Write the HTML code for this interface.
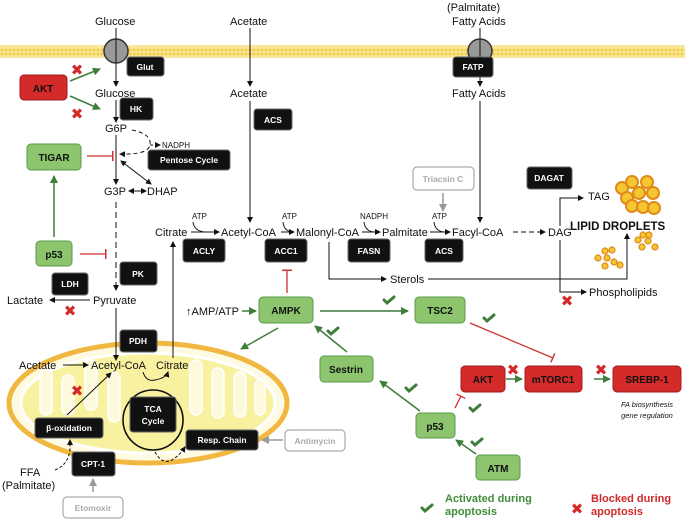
<!DOCTYPE html>
<html><head><meta charset="utf-8"><style>
body{margin:0;background:#fff}
svg{display:block;font-family:"Liberation Sans",Arial,sans-serif}
.t{font-size:11px;fill:#111}
.s{font-size:8px;fill:#111}
.bt{font-size:8.5px;font-weight:bold;fill:#fff;text-anchor:middle}
.gt{font-size:10px;font-weight:bold;fill:#111;text-anchor:middle}
.rt{font-size:10px;font-weight:bold;fill:#111;text-anchor:middle}
</style></head><body>
<svg width="685" height="520" viewBox="0 0 685 520">
<defs>
<marker id="a" markerUnits="userSpaceOnUse" markerWidth="6" markerHeight="6" refX="5" refY="3" orient="auto"><path d="M0,0L6,3L0,6z" fill="#111"/></marker>
<marker id="a2" markerUnits="userSpaceOnUse" markerWidth="6" markerHeight="6" refX="1" refY="3" orient="auto"><path d="M6,0L0,3L6,6z" fill="#111"/></marker>
<marker id="g" markerUnits="userSpaceOnUse" markerWidth="8" markerHeight="8" refX="7" refY="4" orient="auto"><path d="M0,0L8,4L0,8z" fill="#3f7d3a"/></marker>
<marker id="gr" markerUnits="userSpaceOnUse" markerWidth="8" markerHeight="8" refX="7" refY="4" orient="auto"><path d="M0,0L8,4L0,8z" fill="#999"/></marker>
<marker id="inh" markerUnits="userSpaceOnUse" markerWidth="2" markerHeight="10" refX="1" refY="5" orient="auto"><rect x="0" y="0" width="1.5" height="10" fill="#d03030"/></marker>
<pattern id="mem" width="4" height="13" patternUnits="userSpaceOnUse"><rect width="4" height="13" fill="#fbeaa0"/><circle cx="2" cy="2" r="1.6" fill="#f3cd50"/><circle cx="2" cy="11" r="1.6" fill="#f3cd50"/><rect x="1.5" y="3" width="1" height="7" fill="#f6dc80"/></pattern>
</defs>
<rect x="0" y="45" width="685" height="13" fill="url(#mem)"/>
<!-- mitochondrion -->
<ellipse cx="148" cy="403" rx="139" ry="60" fill="#fffbe2" stroke="#f0b840" stroke-width="5"/>
<ellipse cx="148" cy="403" rx="127" ry="50" fill="#f7f1a0" stroke="#fff" stroke-width="3"/>
<g fill="#fcf9dc" stroke="#fff" stroke-width="1.5">
<rect x="40" y="370" width="12" height="45" rx="6"/><rect x="62" y="375" width="12" height="40" rx="6"/>
<rect x="85" y="360" width="12" height="50" rx="6"/><rect x="108" y="372" width="12" height="50" rx="6"/>
<rect x="190" y="360" width="12" height="55" rx="6"/><rect x="212" y="368" width="12" height="50" rx="6"/>
<rect x="234" y="372" width="12" height="45" rx="6"/><rect x="255" y="380" width="10" height="35" rx="5"/>
</g>
<!-- glucose column -->
<text class="t" x="95" y="25">Glucose</text>
<line x1="116" y1="28" x2="116" y2="86" stroke="#111" marker-end="url(#a)"/>
<circle cx="116" cy="51" r="12" fill="#999" stroke="#333" stroke-width="1.5"/>
<line x1="116" y1="39" x2="116" y2="63" stroke="#111"/>
<text class="t" x="95" y="97">Glucose</text>
<line x1="116" y1="100" x2="116" y2="122" stroke="#111" marker-end="url(#a)"/>
<text class="t" x="105" y="132">G6P</text>
<line x1="116" y1="135" x2="116" y2="184" stroke="#111" marker-end="url(#a)"/>
<path d="M132,130 Q152,134 150,145 Q148,155 120,154" fill="none" stroke="#111" stroke-dasharray="4,3" marker-end="url(#a)"/>
<line x1="150" y1="145" x2="160" y2="145" stroke="#111" stroke-dasharray="3,2" marker-end="url(#a)"/>
<text class="s" x="162" y="148">NADPH</text>
<line x1="121" y1="161" x2="151" y2="184" stroke="#111" marker-end="url(#a)" marker-start="url(#a2)"/>
<text class="t" x="104" y="195">G3P</text>
<line x1="129" y1="191" x2="146" y2="191" stroke="#111" marker-end="url(#a)" marker-start="url(#a2)"/>
<text class="t" x="147" y="195">DHAP</text>
<line x1="116" y1="202" x2="116" y2="290" stroke="#111" stroke-dasharray="6,4" marker-end="url(#a)"/>
<text class="t" x="93" y="304">Pyruvate</text>
<line x1="116" y1="308" x2="116" y2="360" stroke="#111" marker-end="url(#a)"/>
<line x1="90" y1="300" x2="50" y2="300" stroke="#111" marker-end="url(#a)"/>
<text class="t" x="7" y="304">Lactate</text>
<!-- left signaling -->
<rect x="20" y="75" width="47" height="25" rx="4" fill="#d42a2a" stroke="#a01c1c"/><text class="rt" x="43" y="92">AKT</text>
<line x1="70" y1="81" x2="100" y2="69" stroke="#3f7d3a" stroke-width="1.5" marker-end="url(#g)"/>
<line x1="70" y1="96" x2="100" y2="109" stroke="#3f7d3a" stroke-width="1.5" marker-end="url(#g)"/>
<rect x="27" y="144" width="54" height="26" rx="4" fill="#8cc56e" stroke="#5a9a48"/><text class="gt" x="54" y="161">TIGAR</text>
<line x1="87" y1="156" x2="113" y2="156" stroke="#d03030" stroke-width="1.3" marker-end="url(#inh)"/>
<rect x="36" y="241" width="36" height="25" rx="4" fill="#8cc56e" stroke="#5a9a48"/><text class="gt" x="54" y="258">p53</text>
<line x1="54" y1="237" x2="54" y2="176" stroke="#3f7d3a" stroke-width="1.5" marker-end="url(#g)"/>
<line x1="80" y1="254" x2="106" y2="254" stroke="#d03030" stroke-width="1.3" marker-end="url(#inh)"/>
<!-- acetate column -->
<text class="t" x="230" y="25">Acetate</text>
<line x1="250" y1="28" x2="250" y2="86" stroke="#111" marker-end="url(#a)"/>
<text class="t" x="230" y="97">Acetate</text>
<line x1="250" y1="101" x2="250" y2="222" stroke="#111" marker-end="url(#a)"/>
<!-- fatty acids -->
<text class="t" x="447" y="11">(Palmitate)</text>
<text class="t" x="452" y="25">Fatty Acids</text>
<line x1="480" y1="28" x2="480" y2="86" stroke="#111" marker-end="url(#a)"/>
<circle cx="480" cy="51" r="12" fill="#999" stroke="#333" stroke-width="1.5"/>
<line x1="480" y1="39" x2="480" y2="63" stroke="#111"/>
<text class="t" x="452" y="97">Fatty Acids</text>
<line x1="480" y1="101" x2="480" y2="222" stroke="#111" marker-end="url(#a)"/>
<!-- main row -->
<text class="t" x="155" y="236">Citrate</text>
<text class="t" x="221" y="236">Acetyl-CoA</text>
<text class="t" x="296" y="236">Malonyl-CoA</text>
<text class="t" x="382" y="236">Palmitate</text>
<text class="t" x="452" y="236">Facyl-CoA</text>
<text class="t" x="548" y="236">DAG</text>
<text class="s" x="192" y="219">ATP</text><text class="s" x="282" y="219">ATP</text><text class="s" x="360" y="219">NADPH</text><text class="s" x="432" y="219">ATP</text>
<g stroke="#111" fill="none">
<line x1="191" y1="232" x2="219" y2="232" marker-end="url(#a)"/><path d="M193,222 Q194,231 205,232"/>
<line x1="281" y1="232" x2="294" y2="232" marker-end="url(#a)"/><path d="M283,222 Q284,231 292,232"/>
<line x1="362" y1="232" x2="380" y2="232" marker-end="url(#a)"/><path d="M364,222 Q365,231 374,232"/>
<line x1="430" y1="232" x2="450" y2="232" marker-end="url(#a)"/><path d="M434,222 Q435,231 444,232"/>
<line x1="513" y1="232" x2="545" y2="232" stroke-dasharray="5,3" marker-end="url(#a)"/>
<line x1="173" y1="358" x2="173" y2="242" marker-end="url(#a)"/>
<path d="M329,242 V279 H386" marker-end="url(#a)"/>
<path d="M428,279 H627 V234" marker-end="url(#a)"/>
<path d="M560,226 V198 H583" marker-end="url(#a)"/>
<path d="M560,240 V292 H586" marker-end="url(#a)"/>
</g>
<text class="t" x="390" y="283">Sterols</text>
<text class="t" x="588" y="200">TAG</text>
<text class="t" x="589" y="296">Phospholipids</text>
<g fill="#f6c630" stroke="#e08a1a" stroke-width="2">
<circle cx="622" cy="188" r="6"/><circle cx="632" cy="182" r="6"/><circle cx="647" cy="182" r="6"/>
<circle cx="627" cy="198" r="6"/><circle cx="639" cy="193" r="6"/><circle cx="653" cy="193" r="6"/>
<circle cx="632" cy="206" r="6"/><circle cx="643" cy="207" r="6"/><circle cx="654" cy="208" r="6"/>
</g>
<g fill="#f6c630" stroke="#e08a1a" stroke-width="1.2">
<circle cx="605" cy="251" r="3"/><circle cx="612" cy="250" r="3"/><circle cx="598" cy="258" r="3"/><circle cx="607" cy="258" r="3"/><circle cx="614" cy="262" r="3"/><circle cx="605" cy="266" r="3"/><circle cx="620" cy="265" r="3"/>
<circle cx="643" cy="235" r="3"/><circle cx="649" cy="235" r="3"/><circle cx="638" cy="240" r="3"/><circle cx="648" cy="241" r="3"/><circle cx="642" cy="247" r="3"/><circle cx="655" cy="247" r="3"/>
</g>
<text x="570" y="230" style="font-size:11.5px;font-weight:bold;fill:#111">LIPID DROPLETS</text>
<!-- mito text -->
<text class="t" x="19" y="369">Acetate</text>
<line x1="63" y1="365" x2="88" y2="365" stroke="#111" marker-end="url(#a)"/>
<text class="t" x="91" y="369">Acetyl-CoA</text>
<text class="t" x="156" y="369">Citrate</text>
<path d="M143,372 Q146,382 155,380 Q166,378 168,372" fill="none" stroke="#111" marker-end="url(#a)"/>
<circle cx="153" cy="420" r="30" fill="none" stroke="#111" stroke-width="1.6"/>
<line x1="67" y1="415" x2="111" y2="373" stroke="#111" marker-end="url(#a)"/>
<path d="M155,452 Q162,465 172,460 Q180,455 185,447" fill="none" stroke="#111" stroke-dasharray="3,2" marker-end="url(#a)"/>
<path d="M55,470 Q68,465 70,450 L70,440" fill="none" stroke="#111" stroke-dasharray="3,2" marker-end="url(#a)"/>
<text class="t" x="20" y="476">FFA</text>
<text class="t" x="2" y="489">(Palmitate)</text>
<line x1="93" y1="492" x2="93" y2="479" stroke="#999" stroke-width="1.5" marker-end="url(#gr)"/>
<line x1="283" y1="440" x2="262" y2="440" stroke="#999" stroke-width="1.5" marker-end="url(#gr)"/>
<line x1="443" y1="193" x2="443" y2="211" stroke="#999" stroke-width="1.5" marker-end="url(#gr)"/>
<!-- black boxes -->
<g fill="#111" stroke="#666" stroke-width="1">
<rect x="127" y="57" width="37" height="19" rx="3"/><rect x="120" y="98" width="33" height="22" rx="3"/>
<rect x="148" y="150" width="82" height="20" rx="3"/><rect x="254" y="109" width="38" height="21" rx="3"/>
<rect x="183" y="239" width="42" height="23" rx="3"/><rect x="265" y="239" width="42" height="23" rx="3"/>
<rect x="348" y="239" width="42" height="23" rx="3"/><rect x="425" y="239" width="38" height="23" rx="3"/>
<rect x="453" y="57" width="40" height="20" rx="3"/><rect x="527" y="167" width="45" height="22" rx="3"/>
<rect x="120" y="262" width="37" height="23" rx="3"/><rect x="52" y="273" width="36" height="22" rx="3"/>
<rect x="120" y="330" width="37" height="22" rx="3"/>
<rect x="130" y="397" width="46" height="35" rx="3"/><rect x="35" y="418" width="68" height="20" rx="3"/>
<rect x="72" y="452" width="43" height="24" rx="3"/><rect x="186" y="430" width="72" height="20" rx="3"/>
</g>
<text class="bt" x="145" y="70">Glut</text><text class="bt" x="136" y="112">HK</text>
<text class="bt" x="189" y="163">Pentose Cycle</text><text class="bt" x="273" y="123">ACS</text>
<text class="bt" x="204" y="254">ACLY</text><text class="bt" x="286" y="254">ACC1</text>
<text class="bt" x="369" y="254">FASN</text><text class="bt" x="444" y="254">ACS</text>
<text class="bt" x="473" y="70">FATP</text><text class="bt" x="549" y="181">DAGAT</text>
<text class="bt" x="138" y="277">PK</text><text class="bt" x="70" y="287">LDH</text>
<text class="bt" x="138" y="344">PDH</text>
<text class="bt" x="153" y="412">TCA</text><text class="bt" x="153" y="424">Cycle</text>
<text class="bt" x="69" y="431">β-oxidation</text><text class="bt" x="93" y="467">CPT-1</text>
<text class="bt" x="222" y="443">Resp. Chain</text>
<g fill="#fff" stroke="#aaa" stroke-width="1.2">
<rect x="413" y="167" width="61" height="23" rx="4"/><rect x="285" y="430" width="60" height="21" rx="4"/><rect x="63" y="497" width="60" height="21" rx="4"/>
</g>
<text x="443" y="182" style="font-size:8.5px;font-weight:bold;fill:#aaa;text-anchor:middle">Triacsin C</text>
<text x="315" y="444" style="font-size:8.5px;font-weight:bold;fill:#aaa;text-anchor:middle">Antimycin</text>
<text x="93" y="511" style="font-size:8.5px;font-weight:bold;fill:#aaa;text-anchor:middle">Etomoxir</text>
<!-- signaling -->
<text class="t" x="186" y="315">↑AMP/ATP</text>
<line x1="242" y1="311" x2="256" y2="311" stroke="#3f7d3a" stroke-width="1.5" marker-end="url(#g)"/>
<line x1="287" y1="293" x2="287" y2="270" stroke="#d03030" stroke-width="1.3" marker-end="url(#inh)"/>
<line x1="320" y1="311" x2="408" y2="311" stroke="#3f7d3a" stroke-width="1.5" marker-end="url(#g)"/>
<line x1="278" y1="328" x2="241" y2="349" stroke="#3f7d3a" stroke-width="1.5" marker-end="url(#g)"/>
<line x1="347" y1="352" x2="315" y2="326" stroke="#3f7d3a" stroke-width="1.5" marker-end="url(#g)"/>
<line x1="470" y1="323" x2="553" y2="358" stroke="#d03030" stroke-width="1.3" marker-end="url(#inh)"/>
<line x1="420" y1="411" x2="380" y2="381" stroke="#3f7d3a" stroke-width="1.5" marker-end="url(#g)"/>
<line x1="455" y1="408" x2="461" y2="396" stroke="#d03030" stroke-width="1.3" marker-end="url(#inh)"/>
<line x1="476" y1="454" x2="456" y2="440" stroke="#3f7d3a" stroke-width="1.5" marker-end="url(#g)"/>
<line x1="506" y1="379" x2="522" y2="379" stroke="#3f7d3a" stroke-width="1.5" marker-end="url(#g)"/>
<line x1="594" y1="379" x2="610" y2="379" stroke="#3f7d3a" stroke-width="1.5" marker-end="url(#g)"/>
<g fill="#8cc56e" stroke="#5a9a48">
<rect x="259" y="297" width="54" height="26" rx="4"/><rect x="415" y="297" width="50" height="26" rx="4"/>
<rect x="320" y="356" width="53" height="26" rx="4"/><rect x="416" y="413" width="39" height="25" rx="4"/>
<rect x="476" y="455" width="44" height="25" rx="4"/>
</g>
<text class="gt" x="286" y="314">AMPK</text><text class="gt" x="440" y="314">TSC2</text>
<text class="gt" x="346" y="373">Sestrin</text><text class="gt" x="435" y="430">p53</text><text class="gt" x="498" y="472">ATM</text>
<g fill="#d42a2a" stroke="#a01c1c">
<rect x="461" y="366" width="44" height="26" rx="4"/><rect x="525" y="366" width="57" height="26" rx="4"/><rect x="613" y="366" width="68" height="26" rx="4"/>
</g>
<text class="rt" x="483" y="383">AKT</text><text class="rt" x="553" y="383">mTORC1</text><text class="rt" x="647" y="383">SREBP-1</text>
<text x="647" y="407" style="font-size:7.5px;font-style:italic;fill:#111;text-anchor:middle">FA biosynthesis</text>
<text x="647" y="418" style="font-size:7.5px;font-style:italic;fill:#111;text-anchor:middle">gene regulation</text>
<g fill="none" stroke="#3f7d3a" stroke-width="3" stroke-linecap="round">
<path d="M384,300 l3,3 l7,-6"/><path d="M484,318 l3,3 l7,-6"/><path d="M328,331 l3,3 l7,-6"/>
<path d="M406,388 l3,3 l7,-6"/><path d="M470,408 l3,3 l7,-6"/><path d="M472,442 l3,3 l7,-6"/>
<path d="M422,508 l3,3 l7,-6"/>
</g>
<text x="445" y="502" style="font-size:11px;font-weight:bold;fill:#3f8d3a">Activated during</text>
<text x="445" y="515" style="font-size:11px;font-weight:bold;fill:#3f8d3a">apoptosis</text>
<text x="591" y="502" style="font-size:11px;font-weight:bold;fill:#d02a2a">Blocked during</text>
<text x="591" y="515" style="font-size:11px;font-weight:bold;fill:#d02a2a">apoptosis</text>
<g fill="#d42a2a" font-weight="bold" font-size="15" text-anchor="middle" font-family="DejaVu Sans,sans-serif">
<text x="77" y="75">✖</text><text x="77" y="119">✖</text><text x="70" y="316">✖</text><text x="77" y="396">✖</text>
<text x="567" y="306">✖</text><text x="513" y="375">✖</text><text x="601" y="375">✖</text><text x="577" y="514">✖</text>
</g>
</svg>
</body></html>
